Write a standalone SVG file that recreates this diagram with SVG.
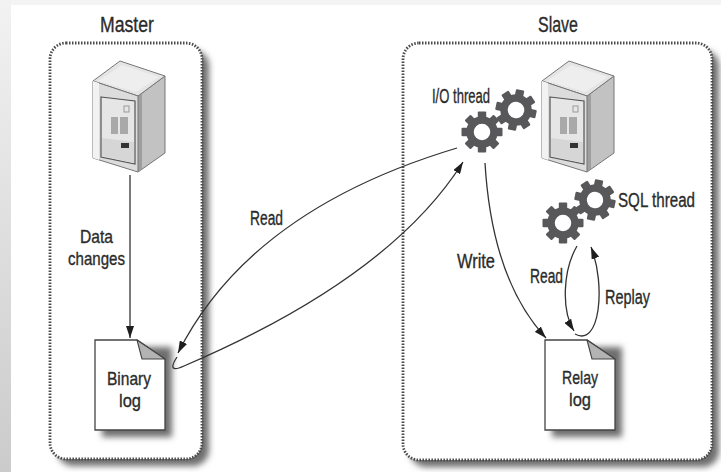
<svg xmlns="http://www.w3.org/2000/svg" xmlns:xlink="http://www.w3.org/1999/xlink" width="721" height="472" viewBox="0 0 721 472">
<style>
.lbl{font-family:"Liberation Sans",Arial,sans-serif;fill:#2b2b2b;stroke:#2b2b2b;stroke-width:0.35;}
.title{font-size:22px;}
.t{font-size:20px;}
.d{font-size:19px;}
.box{fill:#fff;stroke:#4a4a4a;stroke-width:2.8;stroke-dasharray:1.5 1.5;}
.shadow{fill:#6e6e6e;}
.doc{fill:#fff;stroke:#444;stroke-width:1.3;}
.fold{fill:#b3b3b3;stroke:#444;stroke-width:1.1;stroke-linejoin:round;}
.conn{fill:none;stroke:#333;stroke-width:1.3;}
</style>
<defs>
<linearGradient id="band" x1="0" y1="0" x2="0" y2="1">
<stop offset="0" stop-color="#f2f2f2"/>
<stop offset="1" stop-color="#cbcbcb"/>
</linearGradient>
<filter id="blur" x="-20%" y="-20%" width="140%" height="140%">
<feGaussianBlur stdDeviation="3"/>
</filter>
<marker id="ah" viewBox="0 0 12 8" refX="12" refY="4" markerWidth="12" markerHeight="8" markerUnits="userSpaceOnUse" orient="auto">
<path d="M0,0 L12,4 L0,8 z" fill="#1e1e1e"/>
</marker>
<g id="gear" fill="#58585a">
<circle r="12" fill="none" stroke="#58585a" stroke-width="7.5"/>
<rect x="-4.2" y="-20.5" width="8.4" height="7" rx="1"/>
<rect x="-4.2" y="-20.5" width="8.4" height="7" rx="1" transform="rotate(45)"/>
<rect x="-4.2" y="-20.5" width="8.4" height="7" rx="1" transform="rotate(90)"/>
<rect x="-4.2" y="-20.5" width="8.4" height="7" rx="1" transform="rotate(135)"/>
<rect x="-4.2" y="-20.5" width="8.4" height="7" rx="1" transform="rotate(180)"/>
<rect x="-4.2" y="-20.5" width="8.4" height="7" rx="1" transform="rotate(225)"/>
<rect x="-4.2" y="-20.5" width="8.4" height="7" rx="1" transform="rotate(270)"/>
<rect x="-4.2" y="-20.5" width="8.4" height="7" rx="1" transform="rotate(315)"/>
</g>
<g id="server">
<polygon points="138,96 165,76 165,153 138,172" fill="#c2c2c2" stroke="#777" stroke-width="1"/>
<polygon points="138,96 142,93 142,169 138,172" fill="#9e9e9e"/>
<polygon points="93,81 120,61 165,76 138,96" fill="#e4e4e4" stroke="#777" stroke-width="1"/>
<polygon points="98,81 122,65 159,77 136,92" fill="#eeeeee"/>
<polygon points="93,81 138,96 138,172 93,158" fill="#dcdcdc" stroke="#777" stroke-width="1"/>
<polygon points="93,81 99,83 99,160 93,158" fill="#f2f2f2"/>
<polygon points="101,97 135,101 135,164 101,157" fill="#e6e6e6" stroke="#555" stroke-width="1.2"/>
<polygon points="102,138 134,142 134,163 102,156" fill="#d6d6d6"/>
<rect x="111" y="117" width="7" height="17" fill="#a9a9a9"/>
<rect x="120" y="117" width="8" height="17" fill="#a9a9a9"/>
<rect x="124" y="106" width="5" height="6" fill="none" stroke="#999" stroke-width="1"/>
<rect x="121" y="143" width="8" height="5" fill="#333"/>
</g>
</defs>

<rect width="721" height="472" fill="#fff"/>
<rect x="0" y="0" width="11" height="472" fill="url(#band)"/>
<rect x="11" y="0" width="710" height="5" fill="#f4f4f4"/>

<g id="master">
<rect class="shadow" x="57" y="50" width="152" height="416" rx="16" filter="url(#blur)"/>
<rect class="box" x="50" y="43" width="152" height="416" rx="16"/>
<text class="lbl title" x="100" y="32" textLength="54" lengthAdjust="spacingAndGlyphs">Master</text>
</g>

<g id="slave">
<rect class="shadow" x="410" y="50" width="309" height="417" rx="16" filter="url(#blur)"/>
<rect class="box" x="403" y="43" width="309" height="417" rx="16"/>
<text class="lbl title" x="538" y="32" textLength="40" lengthAdjust="spacingAndGlyphs">Slave</text>
</g>

<g id="master-server">
<use xlink:href="#server"/>
</g>

<g id="slave-server">
<use xlink:href="#server" transform="translate(449,0)"/>
</g>

<g id="binary-log">
<path class="shadow" d="M102,347 H172 V437 H102 Z" filter="url(#blur)"/>
<path class="doc" d="M95,340 H137 L165,359 V430 H95 Z"/>
<path class="fold" d="M137,340 L142,359 L165,359 Z"/>
<text class="lbl d" x="107" y="385" textLength="44" lengthAdjust="spacingAndGlyphs">Binary</text>
<text class="lbl d" x="119" y="407" textLength="22" lengthAdjust="spacingAndGlyphs">log</text>
</g>

<g id="relay-log">
<path class="shadow" d="M552,347 H622 V437 H552 Z" filter="url(#blur)"/>
<path class="doc" d="M545,340 H587 L615,359 V430 H545 Z"/>
<path class="fold" d="M587,340 L592,359 L615,359 Z"/>
<text class="lbl d" x="562" y="384" textLength="36" lengthAdjust="spacingAndGlyphs">Relay</text>
<text class="lbl d" x="569" y="406" textLength="22" lengthAdjust="spacingAndGlyphs">log</text>
</g>

<g id="io-thread">
<use xlink:href="#gear" transform="translate(516,110) rotate(12)"/>
<use xlink:href="#gear" transform="translate(482,132)"/>
<text class="lbl t" x="432" y="103" textLength="58" lengthAdjust="spacingAndGlyphs">I/O thread</text>
</g>

<g id="sql-thread">
<use xlink:href="#gear" transform="translate(595,200) rotate(12)"/>
<use xlink:href="#gear" transform="translate(563,223)"/>
<text class="lbl t" x="618" y="207" textLength="77" lengthAdjust="spacingAndGlyphs">SQL thread</text>
</g>

<g id="connectors">
<path class="conn" d="M130,175 V338" marker-end="url(#ah)"/>
<path class="conn" d="M457,148 Q250,210 178,353" marker-end="url(#ah)"/>
<path class="conn" d="M177,357 Q166,374 184,366 Q390,278 463,162" marker-end="url(#ah)"/>
<path class="conn" d="M485,163 Q492,280 546,338" marker-end="url(#ah)"/>
<path class="conn" d="M577,246 C563,270 561,310 574,331" marker-end="url(#ah)"/>
<path class="conn" d="M575,334 C600,348 606,285 591,247" marker-end="url(#ah)"/>
<text class="lbl d" x="80" y="243" textLength="33" lengthAdjust="spacingAndGlyphs">Data</text>
<text class="lbl d" x="68" y="265" textLength="57" lengthAdjust="spacingAndGlyphs">changes</text>
<text class="lbl t" x="250" y="225" textLength="33" lengthAdjust="spacingAndGlyphs">Read</text>
<text class="lbl t" x="457" y="268" textLength="38" lengthAdjust="spacingAndGlyphs">Write</text>
<text class="lbl t" x="530" y="283" textLength="33" lengthAdjust="spacingAndGlyphs">Read</text>
<text class="lbl t" x="605" y="304" textLength="45" lengthAdjust="spacingAndGlyphs">Replay</text>
</g>
</svg>
